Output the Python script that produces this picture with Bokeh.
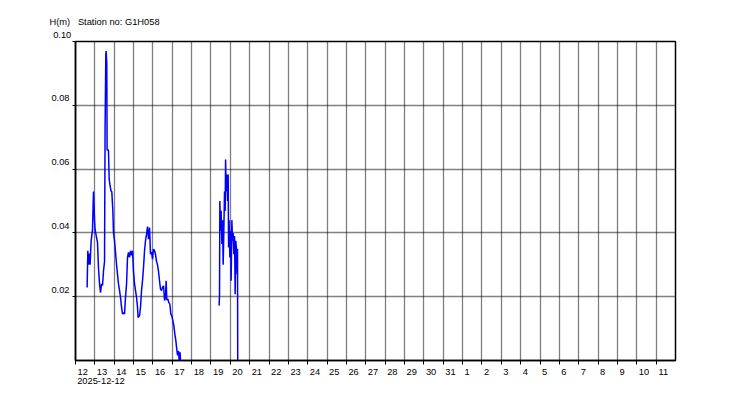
import pandas as pd
from bokeh.plotting import figure
from bokeh.models import (Range1d, FixedTicker, LinearAxis, Title)
from bokeh.embed import file_html
from bokeh.resources import INLINE

# ---- data -------------------------------------------------------------
start_date = "2025-12-12"
n_days = 31
day_labels = ["12", "13", "14", "15", "16", "17", "18", "19", "20", "21", "22",
              "23", "24", "25", "26", "27", "28", "29", "30", "31", "1", "2",
              "3", "4", "5", "6", "7", "8", "9", "10", "11"]
date_label = "2025-12-12"
station_title = "Station no: G1H058"
y_title = "H(m)"
y_ticks = [0.02, 0.04, 0.06, 0.08, 0.10]
y_tick_labels = ["0.02", "0.04", "0.06", "0.08", "0.10"]

# hours since 2025-12-12 00:00, water level H (m)
seg1_hours = [14.4, 15.3, 16.1, 16.9, 18.1, 19.4, 21.1, 22.3, 23.6, 24.3, 26.1,
              27.3, 28.5, 29.8, 31.0, 32.3, 33.5, 34.7, 36.0, 36.7, 37.6, 38.0,
              38.8, 39.2, 40.9, 41.7, 42.9, 44.2, 45.0, 46.3, 47.1, 48.4, 49.6,
              50.9, 52.1, 53.3, 54.6, 55.8, 57.1, 58.3, 59.5, 60.8, 62.0, 63.3,
              64.5, 65.7, 67.0, 68.2, 69.5, 70.7, 71.9, 73.2, 74.4, 75.7, 76.9,
              77.6, 79.4, 80.6, 81.9, 83.1, 84.3, 85.6, 86.8, 88.1, 89.3, 90.5,
              91.8, 93.0, 94.3, 95.5, 96.7, 98.0, 99.2, 100.5, 101.7, 102.9,
              104.2, 105.4, 106.7, 107.9, 109.2, 110.4, 111.6, 112.4, 113.2,
              114.5, 115.7, 117.0, 118.2, 119.4, 120.7, 121.9, 123.2, 124.4,
              125.3, 126.5, 127.8, 128.5, 129.7, 130.6, 133.1]
seg1_level = [0.0229, 0.0344, 0.0300, 0.0335, 0.0300, 0.0375, 0.0410, 0.0530,
              0.0440, 0.0410, 0.0385, 0.0370, 0.0290, 0.0240, 0.0213, 0.0240,
              0.0235, 0.0280, 0.0310, 0.0730, 0.0960, 0.0970, 0.0930, 0.0660,
              0.0660, 0.0570, 0.0547, 0.0530, 0.0530, 0.0470, 0.0400, 0.0375,
              0.0340, 0.0300, 0.0270, 0.0240, 0.0220, 0.0198, 0.0167, 0.0146,
              0.0150, 0.0146, 0.0198, 0.0240, 0.0323, 0.0339, 0.0323, 0.0344,
              0.0330, 0.0344, 0.0280, 0.0240, 0.0220, 0.0198, 0.0167, 0.0135,
              0.0140, 0.0167, 0.0219, 0.0250, 0.0290, 0.0344, 0.0375, 0.0396,
              0.0420, 0.0380, 0.0417, 0.0333, 0.0340, 0.0318, 0.0349, 0.0344,
              0.0333, 0.0310, 0.0300, 0.0280, 0.0250, 0.0224, 0.0219, 0.0230,
              0.0234, 0.0188, 0.0198, 0.0250, 0.0190, 0.0193, 0.0182, 0.0177,
              0.0146, 0.0140, 0.0125, 0.0110, 0.0083, 0.0063, 0.0042, 0.0016,
              0.0030, 0.0000, 0.0026, -0.0020, -0.0010]

seg2_hours = [178.1, 178.6, 179.0, 179.8, 180.6, 181.5, 182.3, 183.1, 183.9,
              184.8, 185.6, 186.1, 186.8, 187.7, 188.5, 189.3, 189.8, 190.5,
              191.4, 192.3, 193.0, 193.9, 194.7, 195.5, 196.3, 197.2, 198.0,
              198.8, 199.7, 200.4, 200.9, 201.2]
seg2_level = [0.0172, 0.0208, 0.0500, 0.0406, 0.0469, 0.0365, 0.0440, 0.0300,
              0.0400, 0.0530, 0.0469, 0.0630, 0.0530, 0.0583, 0.0500, 0.0583,
              0.0354, 0.0440, 0.0323, 0.0406, 0.0250, 0.0440, 0.0375, 0.0400,
              0.0333, 0.0390, 0.0208, 0.0375, 0.0344, 0.0270, 0.0350, -0.0040]

# ---- layout / style ---------------------------------------------------------
FONT = "Liberation Sans"
FS_PX = 9.3
FS = f"{FS_PX}px"
FRAME_W, FRAME_H = 600, 319
LEFT, TOP = 75, 41
GRID_DASH = "1 1"


def text_width(s):
    w = 0.0
    for c in s:
        w += 0.3 if c in "-." else 0.556
    return w * FS_PX


t0 = pd.Timestamp(start_date)
to_ms = lambda ts: ts.timestamp() * 1000.0
x0 = to_ms(t0)
x1 = to_ms(t0 + pd.Timedelta(days=n_days))
ms_per_px = (x1 - x0) / FRAME_W
day_ms = [int(to_ms(t0 + pd.Timedelta(days=i))) for i in range(n_days)]
seg1_x = [to_ms(t0 + pd.Timedelta(hours=h)) for h in seg1_hours]
seg2_x = [to_ms(t0 + pd.Timedelta(hours=h)) for h in seg2_hours]

p = figure(frame_width=FRAME_W, frame_height=FRAME_H,
           x_range=Range1d(x0, x1), y_range=Range1d(0, 0.10),
           output_backend="svg", toolbar_location=None, title=None,
           x_axis_location=None, y_axis_location=None,
           min_border_left=LEFT, min_border_right=60,
           min_border_top=TOP, min_border_bottom=28)
p.background_fill_color = "white"
p.border_fill_color = "white"
p.outline_line_color = "black"
p.outline_line_width = 1.5

text_kw = dict(major_label_text_font=FONT, major_label_text_font_size=FS,
               major_label_text_color="black")

# x axis: tick marks at midnight (minor), labels just right of each tick (major)
lab_ticks = [int(round(d + (2 + text_width(s) / 2) * ms_per_px))
             for d, s in zip(day_ms, day_labels)]
xaxis = LinearAxis(ticker=FixedTicker(ticks=lab_ticks, minor_ticks=day_ms),
                   major_label_overrides=dict(zip(lab_ticks, day_labels)),
                   major_tick_line_color=None, major_tick_out=0, major_tick_in=0,
                   minor_tick_line_color="black", minor_tick_out=4,
                   minor_tick_in=0, axis_line_color="black",
                   axis_line_width=1.5, major_label_standoff=4, **text_kw)
p.add_layout(xaxis, "below")

date_tick = [int(round(x0 + (2 + text_width(date_label) / 2) * ms_per_px))]
date_axis = LinearAxis(ticker=FixedTicker(ticks=date_tick),
                       major_label_overrides={date_tick[0]: date_label},
                       major_tick_line_color=None, major_tick_out=0,
                       major_tick_in=0, minor_tick_line_color=None,
                       axis_line_color=None, major_label_standoff=0, **text_kw)
p.add_layout(date_axis, "below")

# y axis: tick marks at the grid values (minor), labels just above (major)
shift = 7 * 0.10 / FRAME_H
ylab_ticks = [round(v + shift, 6) for v in y_ticks[:-1]]
yaxis = LinearAxis(ticker=FixedTicker(ticks=ylab_ticks, minor_ticks=y_ticks),
                   major_label_overrides=dict(zip(ylab_ticks, y_tick_labels[:-1])),
                   major_tick_line_color=None, major_tick_out=0, major_tick_in=0,
                   minor_tick_line_color="black", minor_tick_out=3,
                   minor_tick_in=0, axis_line_color="black",
                   axis_line_width=1.5, major_label_standoff=3, **text_kw)
p.add_layout(yaxis, "left")

# grids
p.xgrid.ticker = FixedTicker(ticks=day_ms)
p.ygrid.ticker = FixedTicker(ticks=y_ticks)
for g in (p.xgrid, p.ygrid):
    g.grid_line_color = "black"
    g.grid_line_dash = GRID_DASH
    g.grid_line_width = 1.3

# data lines
p.line(seg1_x, seg1_level, line_color="#0000FF", line_width=1.5)
p.line(seg2_x, seg2_level, line_color="#0000FF", line_width=1.5)

# texts above the frame
p.add_layout(Title(text=y_tick_labels[-1], align="left",
                   offset=-4 - text_width(y_tick_labels[-1]),
                   standoff=7, text_font=FONT, text_font_size=FS,
                   text_font_style="normal", text_color="black"), "above")
p.add_layout(Title(text=y_title + "\u00a0\u00a0\u00a0" + station_title,
                   align="left", offset=-26, standoff=0, text_font=FONT,
                   text_font_size=FS, text_font_style="normal",
                   text_color="black"), "above")

open("out.html", "w").write(file_html(p, INLINE))
